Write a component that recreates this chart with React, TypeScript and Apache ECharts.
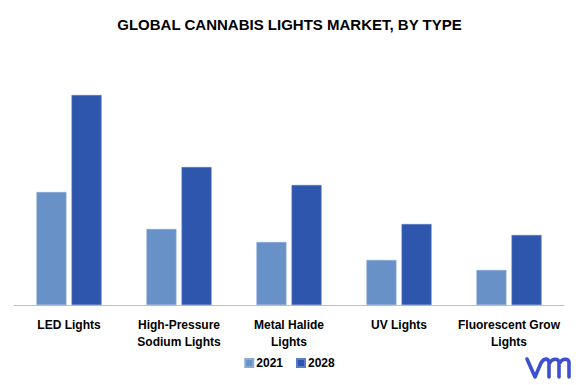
import React, { useEffect, useRef } from "react";
import * as echarts from "echarts";

const categories = [
  "LED Lights",
  "High-Pressure\nSodium Lights",
  "Metal Halide\nLights",
  "UV Lights",
  "Fluorescent Grow\nLights",
];
const values2021 = [113, 76, 63, 45, 35];
const values2028 = [210, 138, 120, 81, 70];
const seriesNames = ["2021", "2028"];

const logoPath =
  "M0 2 L8 20 L14 6 C17 1 21 1 22 5 L22 20 M22 7 C25 1 31 1 32 5 L32 20 M32 7 C35 1 41 1 42 5 L42 20";

echarts.graphic.registerShape("logo", (echarts.graphic as any).extendPath(logoPath, {}));

export default function App() {
  const ref = useRef<HTMLDivElement>(null);
  useEffect(() => {
    if (!ref.current) return;
    const chart = echarts.init(ref.current, undefined, { renderer: "svg" });
    const font = "Liberation Sans";
    chart.setOption({
      animation: false,
      backgroundColor: "#ffffff",
      title: {
        text: "GLOBAL CANNABIS LIGHTS MARKET, BY TYPE",
        left: "center",
        top: 12,
        textStyle: { fontFamily: font, fontWeight: "bold", fontSize: 15, color: "#000000" },
      },
      legend: {
        data: seriesNames,
        bottom: 11,
        left: "center",
        itemWidth: 8,
        itemHeight: 8,
        itemGap: 13,
        icon: "rect",
        textStyle: { fontFamily: font, fontWeight: "bold", fontSize: 12, color: "#000000", padding: [0, 0, 0, -2] },
      },
      grid: { left: 14, right: 15, top: 75, bottom: 80, containLabel: false },
      xAxis: {
        type: "category",
        data: categories,
        axisLine: { lineStyle: { color: "#bfbfbf", width: 1 } },
        axisTick: { show: false },
        axisLabel: {
          interval: 0,
          margin: 11,
          fontFamily: font,
          fontWeight: "bold",
          fontSize: 12,
          lineHeight: 17,
          color: "#000000",
        },
      },
      yAxis: {
        type: "value",
        min: 0,
        max: 230,
        show: false,
        splitLine: { show: false },
      },
      series: [
        {
          name: seriesNames[0],
          type: "bar",
          data: values2021,
          barWidth: 30,
          barGap: "17%",
          itemStyle: { color: "#6891c8", borderColor: "#8aaad6", borderWidth: 0.6 },
        },
        {
          name: seriesNames[1],
          type: "bar",
          data: values2028,
          barWidth: 30,
          itemStyle: { color: "#2e56ad", borderColor: "#5a7cc4", borderWidth: 0.6 },
        },
      ],
      graphic: [
        {
          type: "logo",
          x: 527,
          y: 357,
          scaleX: 1,
          scaleY: 1,
          style: { fill: "none", stroke: "#3d50cf", lineWidth: 3.6, lineCap: "round", lineJoin: "round" },
        },
      ],
    });
    return () => chart.dispose();
  }, []);
  return <div ref={ref} style={{ width: 579, height: 385, position: "absolute", left: 0, top: 0 }} />;
}
